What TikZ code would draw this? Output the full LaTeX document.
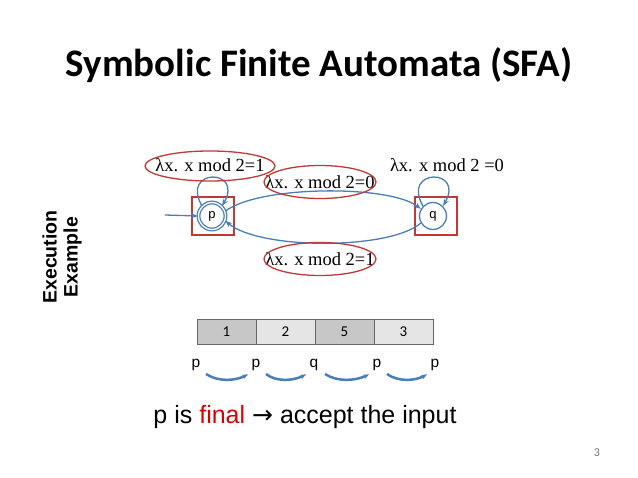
\documentclass[tikz,border=0pt]{standalone}
\usepackage{fontspec}
\setmainfont{Liberation Sans}
\newfontfamily\titlefont{Carlito}
\newfontfamily\serf{Liberation Serif}
\newfontfamily\dv{DejaVu Sans}
\usetikzlibrary{arrows.meta,shapes.geometric}
\definecolor{sblue}{RGB}{74,126,187}
\definecolor{sred}{RGB}{192,57,50}
\tikzset{
  st/.style={circle,draw=sblue,line width=1.3pt,minimum size=27pt,inner sep=0pt,font=\fontsize{13}{14}\selectfont},
  box/.style={draw=sred,line width=1.3pt},
  lab/.style={font=\serf\fontsize{18.5}{20}\selectfont},
  oval/.style={draw=sred,line width=1.3pt,ellipse},
  edge/.style={draw=sblue,line width=1.3pt,-{Stealth[length=7pt]}},
  cell/.style={draw=black!60,minimum width=59pt,minimum height=25pt,inner sep=0pt,font=\titlefont\fontsize{15}{16}\selectfont},
  tl/.style={font=\fontsize{15.5}{16}\selectfont},
  tarr/.style={draw=sblue,line width=2.5pt,-{Stealth[length=6pt]}}
}
\begin{document}
\begin{tikzpicture}[x=1pt,y=-1pt]
\useasboundingbox (0,0) rectangle (638,478);
\node[font=\titlefont\bfseries\fontsize{39}{42}\selectfont] (title) at (319,65) {Symbolic Finite Automata (SFA)};
\node[rotate=90,font=\bfseries\fontsize{19.5}{21}\selectfont,align=center] (exec) at (62,257) {Execution\\Example};
\node[st,double,double distance=1.3pt] (p) at (212,216) {p};
\node[st] (q) at (433,216) {q};
\draw[box] (192,197) rectangle (234,235);
\draw[box] (415,197) rectangle (457,235);
\coordinate (init) at (165,215);
\draw[edge] (init) -- (p.west);
\draw[edge] (p.135) .. controls (180,168) and (244,168) .. (p.45);
\draw[edge] (q.135) .. controls (401,168) and (465,168) .. (q.45);
\draw[edge] (p.20) .. controls (260,185) and (390,185) .. (q.150);
\draw[edge] (q.210) .. controls (390,250) and (260,250) .. (p.-20);
\node[lab] (l1) at (210,165) {λx. x mod 2=1};
\node[oval,minimum width=130pt,minimum height=30pt] (o1) at (210,166) {};
\node[lab] (l2) at (320,182) {λx. x mod 2=0};
\node[oval,minimum width=112pt,minimum height=33pt] (o2) at (320,182) {};
\node[lab] (l3) at (447,165) {λx. x mod 2 =0};
\node[lab] (l4) at (320,259) {λx. x mod 2=1};
\node[oval,minimum width=112pt,minimum height=33pt] (o4) at (320,259) {};
\node[cell,fill=black!22] (c1) at (226.5,331.5) {1};
\node[cell,fill=black!10] (c2) at (285.5,331.5) {2};
\node[cell,fill=black!22] (c3) at (344.5,331.5) {5};
\node[cell,fill=black!10] (c4) at (403.5,331.5) {3};
\node[tl] (s0) at (196,365) {p};
\node[tl] (s1) at (256,365) {p};
\node[tl] (s2) at (314,365) {q};
\node[tl] (s3) at (377,365) {p};
\node[tl] (s4) at (435,365) {p};
\draw[tarr] (206,374) .. controls (218,382) and (235,381) .. (s1.south west);
\draw[tarr] (266,374) .. controls (276,382) and (293,381) .. (s2.south west);
\draw[tarr] (325,374) .. controls (337,382) and (355,381) .. (s3.south west);
\draw[tarr] (387,374) .. controls (398,382) and (415,381) .. (s4.south west);
\node[font=\fontsize{25}{28}\selectfont] (res) at (305,417) {p is \textcolor{red!85!black}{final} {\dv →} accept the input};
\node[font=\titlefont\fontsize{12}{13}\selectfont,text=black!55] (pg) at (597,453) {3};
\end{tikzpicture}
\end{document}
